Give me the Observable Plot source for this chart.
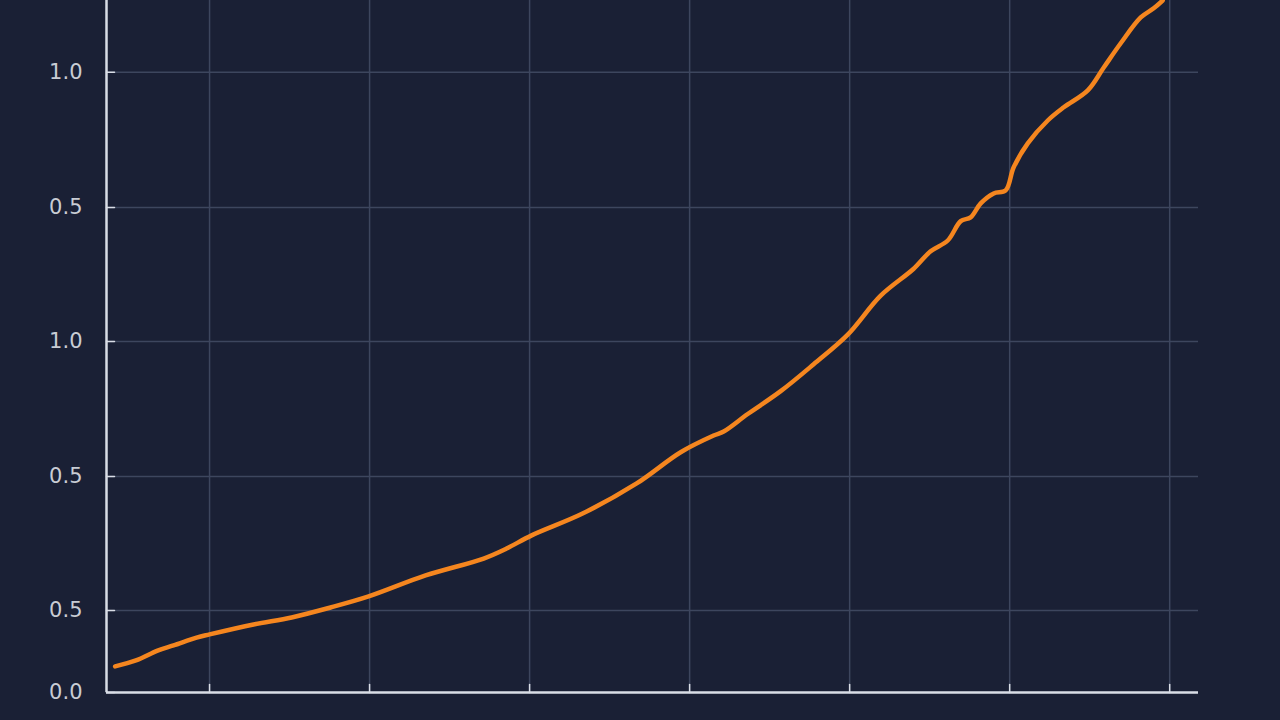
<!DOCTYPE html>
<html>
<head>
<meta charset="utf-8">
<script src="https://cdn.jsdelivr.net/npm/d3@7"></script>
<script src="https://cdn.jsdelivr.net/npm/@observablehq/plot@0.6"></script>
<style>
  html, body { margin: 0; padding: 0; background: #1a2035; }
  #chart { width: 1280px; height: 720px; overflow: hidden; }
  svg { display: block; }
</style>
</head>
<body>
<div id="chart"></div>
<script>
// Series (x in grid units, y in chart units)
const xValues = [0.41, 0.54, 0.675, 0.775, 0.919, 1.0, 1.275, 1.513, 1.756, 1.994, 2.35, 2.713, 2.856, 3.013, 3.331, 3.669, 3.944, 4.15, 4.213, 4.363, 4.569, 4.775, 4.988, 5.194, 5.4, 5.506, 5.613, 5.694, 5.756, 5.819, 5.9, 5.975, 6.025, 6.113, 6.238, 6.338, 6.488, 6.588, 6.694, 6.819, 6.9, 6.956];
const yValues = [0.097, 0.119, 0.156, 0.175, 0.204, 0.216, 0.253, 0.279, 0.316, 0.357, 0.435, 0.498, 0.535, 0.584, 0.665, 0.777, 0.893, 0.955, 0.970, 1.035, 1.120, 1.220, 1.330, 1.475, 1.575, 1.640, 1.680, 1.752, 1.766, 1.818, 1.855, 1.866, 1.952, 2.041, 2.126, 2.175, 2.238, 2.323, 2.413, 2.509, 2.543, 2.572];

// Axis ticks
const xTickValues = [1, 2, 3, 4, 5, 6, 7];
const yTickValues = [0, 0.305, 0.803, 1.305, 1.803, 2.305];
const yTickLabels = ["0.0", "0.5", "0.5", "1.0", "0.5", "1.0"];

const xDomain = [0.356, 7.18];
const yDomain = [0, 2.572];

const data = xValues.map((x, i) => ({x, y: yValues[i]}));

const axisColor = "#d9dde6";
const gridColor = "#3d465e";
const tickShape = {draw(context, l) { context.moveTo(0, 0); context.lineTo(0, -l); }};

const chart = Plot.plot({
  width: 1280,
  height: 720,
  marginLeft: 106,
  marginRight: 82,
  marginTop: 0,
  marginBottom: 28,
  style: {background: "#1a2035", color: "#c8ccd4", fontFamily: "DejaVu Sans", fontSize: "21px"},
  x: {domain: xDomain, axis: null},
  y: {domain: yDomain},
  marks: [
    Plot.gridX(xTickValues, {stroke: gridColor, strokeOpacity: 1, strokeWidth: 1.5}),
    Plot.gridY(yTickValues, {stroke: gridColor, strokeOpacity: 1, strokeWidth: 1.5}),
    Plot.axisY({ticks: yTickValues, tickSize: 0, tickPadding: 24, tickFormat: (d, i) => yTickLabels[i], label: null, fill: "#c8ccd4"}),
    Plot.vector(yTickValues, {x: xDomain[0], y: d => d, length: 8, rotate: 90, anchor: "start", shape: tickShape, stroke: axisColor, strokeWidth: 1.5}),
    Plot.vector(xTickValues, {x: d => d, y: yDomain[0], length: 8, rotate: 0, anchor: "start", shape: tickShape, stroke: axisColor, strokeWidth: 1.5}),
    Plot.ruleX([xDomain[0]], {stroke: axisColor, strokeWidth: 2.5}),
    Plot.ruleY([yDomain[0]], {stroke: axisColor, strokeWidth: 2.5}),
    Plot.line(data, {x: "x", y: "y", stroke: "#f5861f", strokeWidth: 4.5, curve: "catmull-rom"})
  ]
});
document.getElementById("chart").appendChild(chart);
</script>
</body>
</html>
